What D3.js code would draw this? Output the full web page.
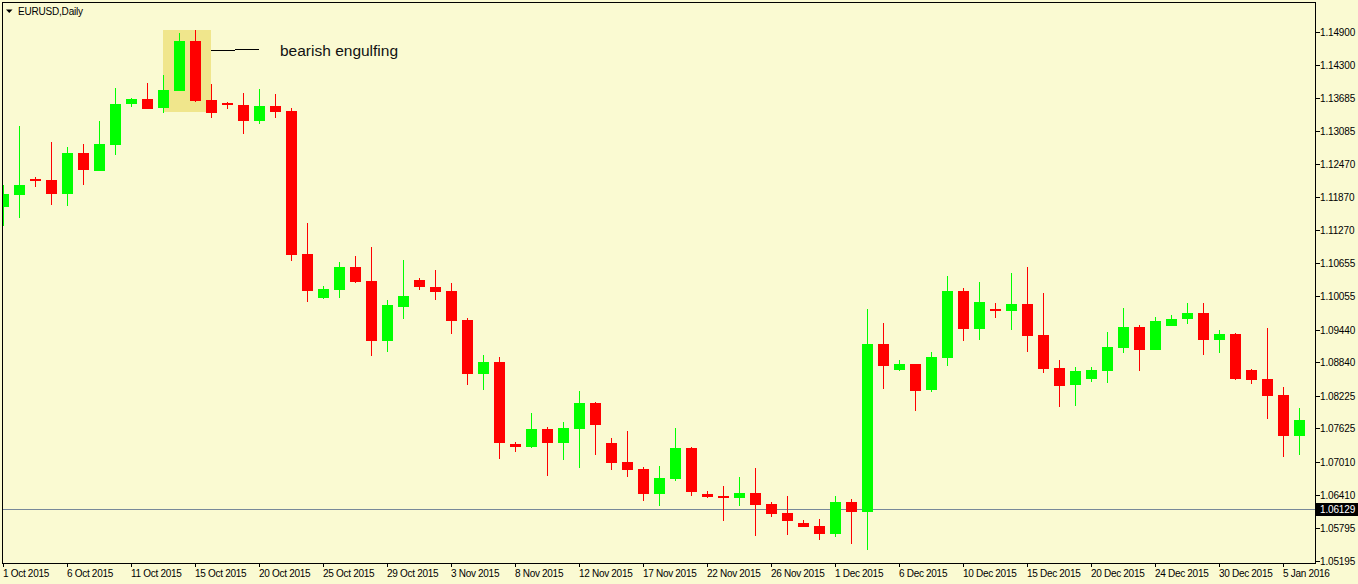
<!DOCTYPE html>
<html>
<head>
<meta charset="utf-8">
<script src="https://cdn.jsdelivr.net/npm/d3@7"></script>
<style>
  html, body { margin: 0; padding: 0; background: #fafad2; }
  svg { display: block; font-family: "Liberation Sans", Arial, sans-serif; }
</style>
</head>
<body>
<svg id="chart" width="1358" height="584"></svg>
<script>
// EURUSD daily bars, 1 Oct 2015 - 6 Jan 2016 (broker has Sunday bars, no 25 Dec / 1 Jan)
const dates = [
  "2015-10-01","2015-10-02","2015-10-04","2015-10-05","2015-10-06","2015-10-07","2015-10-08","2015-10-09",
  "2015-10-11","2015-10-12","2015-10-13","2015-10-14","2015-10-15","2015-10-16","2015-10-18","2015-10-19",
  "2015-10-20","2015-10-21","2015-10-22","2015-10-23","2015-10-25","2015-10-26","2015-10-27","2015-10-28",
  "2015-10-29","2015-10-30","2015-11-01","2015-11-02","2015-11-03","2015-11-04","2015-11-05","2015-11-06",
  "2015-11-08","2015-11-09","2015-11-10","2015-11-11","2015-11-12","2015-11-13","2015-11-15","2015-11-16",
  "2015-11-17","2015-11-18","2015-11-19","2015-11-20","2015-11-22","2015-11-23","2015-11-24","2015-11-25",
  "2015-11-26","2015-11-27","2015-11-29","2015-11-30","2015-12-01","2015-12-02","2015-12-03","2015-12-04",
  "2015-12-06","2015-12-07","2015-12-08","2015-12-09","2015-12-10","2015-12-11","2015-12-13","2015-12-14",
  "2015-12-15","2015-12-16","2015-12-17","2015-12-18","2015-12-20","2015-12-21","2015-12-22","2015-12-23",
  "2015-12-24","2015-12-27","2015-12-28","2015-12-29","2015-12-30","2015-12-31","2016-01-03","2016-01-04",
  "2016-01-05","2016-01-06"
];

const open = [
  1.11692,1.11912,1.12200,1.12182,1.11931,1.12677,1.12353,1.12829,1.13581,1.13668,1.13508,1.13820,
  1.14731,1.13649,1.13589,1.13558,1.13270,1.13539,1.13448,1.10825,1.10023,1.10170,1.10586,1.10330,
  1.09235,1.09858,1.10348,1.10220,1.10146,1.09614,1.08630,1.08844,1.07340,1.07291,1.07615,1.07364,
  1.07621,1.08092,1.07359,1.07010,1.06882,1.06429,1.06704,1.07267,1.06423,1.06392,1.06355,1.06442,
  1.06240,1.06075,1.05891,1.05836,1.05695,1.06277,1.06099,1.09174,1.08703,1.08807,1.08336,1.08923,
  1.10146,1.09455,1.09816,1.09785,1.09908,1.09339,1.08734,1.08422,1.08538,1.08685,1.09106,1.09486,
  1.09070,1.09510,1.09638,1.09743,1.09253,1.09358,1.08697,1.08532,1.08239,1.07493
];
const high = [
  1.12090,1.13172,1.12237,1.12879,1.12787,1.12842,1.13264,1.13869,1.13686,1.13967,1.14102,1.14878,
  1.14933,1.13943,1.13607,1.13778,1.13851,1.13759,1.13503,1.11393,1.10238,1.10678,1.10788,1.10953,
  1.09981,1.10715,1.10385,1.10531,1.10293,1.09651,1.08973,1.08936,1.07382,1.07914,1.07658,1.07749,
  1.08312,1.08111,1.07450,1.07579,1.06918,1.06937,1.07634,1.07285,1.06478,1.06570,1.06735,1.06900,
  1.06277,1.06387,1.05946,1.05965,1.06387,1.06337,1.09816,1.09559,1.08881,1.08810,1.09028,1.10421,
  1.10201,1.10311,1.09926,1.10476,1.10586,1.10110,1.08881,1.08752,1.08752,1.09394,1.09835,1.09523,
  1.09669,1.09706,1.09926,1.09926,1.09431,1.09376,1.08716,1.09468,1.08386,1.08001
];
const low = [
  1.11344,1.11491,1.12059,1.11724,1.11711,1.12090,1.12353,1.12646,1.13526,1.13490,1.13416,1.13820,
  1.13618,1.13325,1.13490,1.13031,1.13215,1.13325,1.10702,1.09950,1.09999,1.10023,1.10298,1.08960,
  1.09033,1.09638,1.10170,1.09987,1.09363,1.08428,1.08336,1.07071,1.07199,1.07272,1.06753,1.07052,
  1.06906,1.07144,1.06869,1.06741,1.06300,1.06209,1.06667,1.06392,1.06355,1.05934,1.06209,1.05659,
  1.06007,1.05677,1.05818,1.05585,1.05640,1.05512,1.05402,1.08354,1.08685,1.07951,1.08299,1.08776,
  1.09235,1.09253,1.09657,1.09437,1.09033,1.08648,1.08024,1.08043,1.08483,1.08465,1.09015,1.08685,
  1.09070,1.09504,1.09547,1.08978,1.09015,1.08520,1.08446,1.07804,1.07107,1.07144
];
const close = [
  1.11925,1.12090,1.12169,1.11931,1.12677,1.12371,1.12842,1.13576,1.13668,1.13490,1.13833,1.14731,
  1.13636,1.13416,1.13563,1.13270,1.13539,1.13435,1.10812,1.10146,1.10183,1.10586,1.10317,1.09235,
  1.09890,1.10055,1.10225,1.10133,1.09602,1.08630,1.08844,1.07364,1.07291,1.07615,1.07364,1.07634,
  1.08092,1.07694,1.06997,1.06869,1.06429,1.06717,1.07267,1.06465,1.06374,1.06355,1.06442,1.06227,
  1.06062,1.05934,1.05824,1.05695,1.06277,1.06099,1.09174,1.08776,1.08807,1.08318,1.08936,1.10146,
  1.09455,1.09945,1.09780,1.09908,1.09327,1.08721,1.08410,1.08679,1.08697,1.09119,1.09486,1.09070,
  1.09596,1.09633,1.09743,1.09253,1.09358,1.08538,1.08520,1.08226,1.07493,1.07780
];

const priceTicks = ["1.14900","1.14300","1.13685","1.13085","1.12470","1.11870","1.11270","1.10655",
  "1.10055","1.09440","1.08840","1.08225","1.07625","1.07010","1.06410","1.05795","1.05195"];
const currentPrice = 1.06129;
const symbolTitle = "EURUSD,Daily";
const patternLabel = "bearish engulfing";
const patternBars = ["2015-10-14", "2015-10-15"];

const bars = dates.map((d, i) => ({
  date: d, open: open[i], high: high[i], low: low[i], close: close[i]
}));

const W = 1358, H = 584;
const plot = { left: 2.5, top: 2.5, right: 1315.5, bottom: 563.5 };
const svg = d3.select("#chart");

const x = d3.scaleBand().domain(dates).range([-4.5, -4.5 + dates.length * 16]).padding(0);
const cx = (d) => x(d) + x.bandwidth() / 2;
const y = d3.scaleLinear().domain([1.05195, 1.14900]).range([561, 31.8]);
const parse = d3.timeParse("%Y-%m-%d");
const fmt = d3.timeFormat("%-d %b %Y");

svg.append("rect").attr("width", W).attr("height", H).attr("fill", "#fafad2");

svg.append("clipPath").attr("id", "plotclip")
  .append("rect")
  .attr("x", 3).attr("y", 3)
  .attr("width", plot.right - 3.5).attr("height", plot.bottom - 3.5);

const g = svg.append("g").attr("clip-path", "url(#plotclip)");

// highlight box behind the engulfing pair
const boxX0 = cx(patternBars[0]) - 16.5;
const boxX1 = cx(patternBars[1]) + 15.5;
const hiBars = bars.filter((b) => patternBars.includes(b.date));
const boxTop = Math.round(y(d3.max(hiBars, (b) => b.high)));
g.append("rect")
  .attr("x", boxX0)
  .attr("y", boxTop)
  .attr("width", boxX1 - boxX0)
  .attr("height", 112 - boxTop)
  .attr("fill", "#f0e68c");

// current price line
g.append("line")
  .attr("x1", plot.left).attr("x2", plot.right)
  .attr("y1", Math.round(y(currentPrice)) - 0.5).attr("y2", Math.round(y(currentPrice)) - 0.5)
  .attr("stroke", "#778899").attr("stroke-width", 1);

const candle = g.selectAll(".candle")
  .data(bars)
  .join("g")
  .attr("class", "candle")
  .attr("shape-rendering", "crispEdges");

candle.append("rect")
  .attr("class", "wick")
  .attr("x", (d) => cx(d.date) - 0.5)
  .attr("width", 1)
  .attr("y", (d) => y(d.high))
  .attr("height", (d) => Math.max(1, y(d.low) - y(d.high)))
  .attr("fill", (d) => (d.close >= d.open ? "#00ff00" : "#ff0000"));

candle.append("rect")
  .attr("class", "body")
  .attr("x", (d) => cx(d.date) - 5.5)
  .attr("width", 11)
  .attr("y", (d) => y(Math.max(d.open, d.close)))
  .attr("height", (d) => Math.max(1.5, Math.abs(y(d.open) - y(d.close))))
  .attr("fill", (d) => (d.close >= d.open ? "#00ff00" : "#ff0000"));

// annotation trend line + label
const annY = 50;
svg.append("line").attr("x1", boxX1).attr("x2", 235).attr("y1", annY + 0.5).attr("y2", annY + 0.5)
  .attr("stroke", "#000").attr("shape-rendering", "crispEdges");
svg.append("line").attr("x1", 235).attr("x2", 259).attr("y1", annY - 0.5).attr("y2", annY - 0.5)
  .attr("stroke", "#000").attr("shape-rendering", "crispEdges");
svg.append("text")
  .attr("x", 280).attr("y", 56)
  .attr("font-size", "15.5px")
  .attr("fill", "#111")
  .text(patternLabel);

// frame
svg.append("rect")
  .attr("x", plot.left).attr("y", plot.top)
  .attr("width", plot.right - plot.left).attr("height", plot.bottom - plot.top)
  .attr("fill", "none").attr("stroke", "#000").attr("stroke-width", 1)
  .attr("shape-rendering", "crispEdges");

// price axis on the right
const yAxis = svg.append("g").attr("class", "y-axis");
priceTicks.forEach((t) => {
  const ty = Math.round(y(+t)) + 0.5;
  yAxis.append("line")
    .attr("x1", plot.right).attr("x2", plot.right + 4)
    .attr("y1", ty).attr("y2", ty)
    .attr("stroke", "#000").attr("shape-rendering", "crispEdges");
  yAxis.append("text")
    .attr("x", 1320).attr("y", ty + 3.5)
    .attr("font-size", "10px").attr("letter-spacing", "-0.15px").attr("fill", "#000")
    .text(t);
});

// current price tag
const cy = Math.round(y(currentPrice));
svg.append("rect")
  .attr("x", 1316).attr("y", cy - 7).attr("width", 42).attr("height", 13)
  .attr("fill", "#000");
svg.append("text")
  .attr("x", 1320).attr("y", cy + 3)
  .attr("font-size", "10px").attr("letter-spacing", "-0.15px").attr("fill", "#fff")
  .text(d3.format(".5f")(currentPrice));

// time axis
const xTicks = dates.filter((d, i) => i % 4 === 0);
const xAxis = svg.append("g").attr("class", "x-axis");
xTicks.forEach((d) => {
  const tx = Math.floor(cx(d)) + 0.5;
  xAxis.append("line")
    .attr("x1", tx).attr("x2", tx)
    .attr("y1", plot.bottom).attr("y2", plot.bottom + 3)
    .attr("stroke", "#000").attr("shape-rendering", "crispEdges");
  xAxis.append("text")
    .attr("x", tx - 0.5).attr("y", 577)
    .attr("font-size", "10px").attr("letter-spacing", "-0.3px").attr("fill", "#000")
    .text(fmt(parse(d)));
});

// title with the small drop-down triangle
svg.append("path")
  .attr("d", "M6,9.5 L12.5,9.5 L9.25,13 Z")
  .attr("fill", "#000");
svg.append("text")
  .attr("x", 18).attr("y", 14.5)
  .attr("font-size", "10px").attr("letter-spacing", "-0.2px").attr("fill", "#000")
  .text(symbolTitle);
</script>
</body>
</html>
